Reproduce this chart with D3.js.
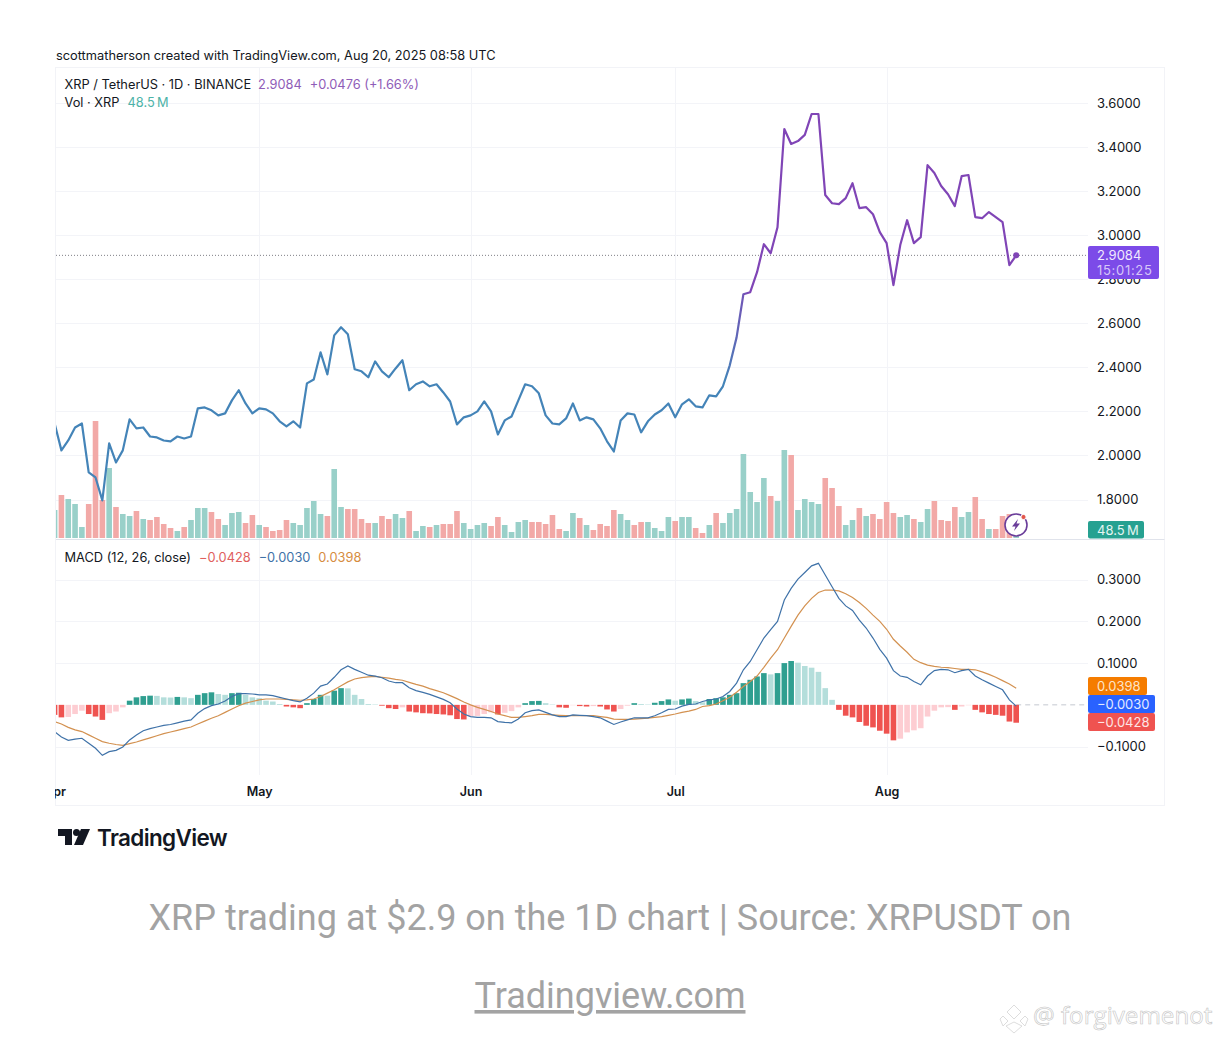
<!DOCTYPE html>
<html>
<head>
<meta charset="utf-8">
<title>XRP / TetherUS</title>
<script src="https://cdn.jsdelivr.net/npm/d3@7"></script>
<style>
  body { margin: 0; background: #fff; }
  svg { display: block; }
  text { font-family: Inter, "Noto Sans", sans-serif; fill: #131722; }
</style>
</head>
<body>
<div id="chart"></div>
<script>
// daily values, 1 Apr - 20 Aug 2025
const closes = [2.145,2.023,2.068,2.127,2.145,1.923,1.900,1.796,2.055,1.968,2.023,2.164,2.123,2.127,2.086,2.082,2.068,2.064,2.086,2.077,2.086,2.214,2.218,2.205,2.182,2.191,2.250,2.296,2.236,2.191,2.214,2.209,2.191,2.155,2.132,2.155,2.127,2.327,2.345,2.468,2.368,2.545,2.582,2.550,2.391,2.382,2.355,2.427,2.382,2.355,2.395,2.432,2.296,2.323,2.336,2.314,2.323,2.286,2.245,2.141,2.173,2.182,2.200,2.245,2.200,2.095,2.159,2.177,2.250,2.323,2.314,2.282,2.182,2.145,2.141,2.168,2.236,2.159,2.173,2.164,2.123,2.064,2.018,2.159,2.191,2.186,2.105,2.155,2.186,2.205,2.236,2.173,2.232,2.255,2.223,2.218,2.273,2.268,2.314,2.409,2.536,2.732,2.741,2.832,2.959,2.918,3.036,3.482,3.414,3.427,3.455,3.550,3.550,3.182,3.145,3.141,3.168,3.236,3.123,3.127,3.095,3.014,2.964,2.773,2.955,3.068,2.964,2.991,3.318,3.282,3.223,3.186,3.132,3.268,3.273,3.082,3.077,3.105,3.082,3.059,2.864,2.9084];
const volumes = [112,172,156,136,44,136,468,152,280,124,96,88,108,76,72,84,56,40,28,44,72,120,120,104,76,52,100,104,60,92,52,44,28,32,72,60,52,120,148,96,88,276,124,116,116,76,60,60,88,76,96,80,108,28,48,44,52,56,56,108,60,36,52,60,48,84,52,24,64,72,64,64,56,92,36,28,100,80,52,32,56,48,112,96,72,52,64,64,40,28,84,68,84,84,40,20,52,100,60,100,116,336,184,144,240,168,148,352,332,112,156,144,136,240,200,128,52,72,120,88,96,76,144,100,84,92,76,64,116,148,72,68,124,84,104,164,76,36,36,88,96,48.5];
const volumeUp = [1,0,1,1,1,0,0,0,1,0,1,1,0,1,0,0,0,0,1,0,1,1,1,0,0,1,1,1,0,0,1,0,0,0,0,1,1,1,1,1,0,1,1,0,0,0,0,1,0,0,1,1,0,1,1,0,1,0,0,0,1,1,1,1,0,0,1,1,1,1,0,0,0,0,0,1,1,0,1,0,0,0,0,1,1,0,0,1,1,1,1,0,1,1,0,0,1,0,1,1,1,1,1,1,1,0,1,1,0,1,1,1,1,0,0,0,1,1,0,1,0,0,0,0,1,1,0,1,1,0,0,0,0,1,1,0,0,1,0,0,0,1];
const macdLine = [-.064,-.077,-.085,-.082,-.080,-.092,-.104,-.121,-.112,-.109,-.101,-.084,-.072,-.062,-.057,-.053,-.049,-.047,-.043,-.039,-.036,-.020,-.009,-.002,.002,.009,.020,.027,.027,.026,.024,.024,.022,.018,.014,.010,.007,.016,.028,.045,.050,.066,.084,.093,.085,.078,.071,.069,.065,.057,.053,.053,.041,.034,.030,.025,.019,.013,.005,-.010,-.022,-.028,-.030,-.030,-.031,-.040,-.042,-.043,-.034,-.019,-.014,-.012,-.018,-.024,-.028,-.028,-.024,-.025,-.026,-.028,-.031,-.039,-.047,-.041,-.036,-.031,-.031,-.031,-.026,-.019,-.011,-.010,-.003,.001,.002,.008,.012,.014,.020,.032,.052,.084,.104,.132,.160,.180,.200,.251,.279,.301,.317,.333,.339,.311,.283,.255,.237,.226,.203,.184,.160,.133,.112,.082,.069,.066,.056,.048,.069,.082,.085,.084,.077,.082,.085,.069,.060,.052,.044,.036,.012,-.0030];
const signalLine = [-.040,-.046,-.054,-.060,-.064,-.072,-.080,-.088,-.092,-.095,-.097,-.093,-.089,-.084,-.079,-.074,-.069,-.065,-.061,-.057,-.053,-.046,-.039,-.032,-.026,-.018,-.010,-.002,.004,.008,.012,.014,.014,.014,.013,.012,.011,.012,.014,.020,.028,.036,.046,.055,.062,.065,.067,.068,.066,.064,.061,.059,.054,.049,.045,.039,.034,.029,.022,.015,.007,0,-.006,-.011,-.016,-.022,-.026,-.030,-.030,-.028,-.026,-.023,-.023,-.024,-.025,-.026,-.026,-.026,-.026,-.026,-.028,-.030,-.034,-.035,-.035,-.034,-.033,-.032,-.030,-.028,-.025,-.022,-.018,-.015,-.011,-.004,-.002,.002,.010,.018,.030,.044,.056,.069,.090,.112,.132,.160,.188,.215,.237,.255,.269,.275,.275,.273,.266,.257,.245,.231,.215,.200,.181,.157,.141,.126,.109,.101,.095,.092,.090,.089,.087,.085,.085,.084,.079,.073,.066,.058,.050,.0398];
const histogram = [-.024,-.030,-.029,-.022,-.014,-.022,-.028,-.036,-.020,-.016,-.006,.010,.018,.021,.022,.0215,.018,.0175,.019,.018,.016,.024,.028,.030,.026,.024,.028,.029,.024,.018,.016,.010,.008,.002,-.004,-.006,-.008,.004,.014,.024,.022,.034,.040,.0395,.024,.014,.002,.001,-.002,-.008,-.010,-.006,-.016,-.018,-.020,-.0205,-.022,-.023,-.025,-.034,-.035,-.027,-.0265,-.022,-.018,-.023,-.019,-.015,-.006,.004,.009,.0095,.004,.001,-.006,-.007,-.001,-.003,-.004,-.003,-.004,-.011,-.016,-.010,-.002,.004,.002,.001,.005,.009,.013,.010,.013,.015,.009,.006,.014,.016,.018,.024,.028,.052,.060,.068,.076,.073,.076,.100,.105,.101,.093,.089,.079,.040,.012,-.012,-.026,-.030,-.041,-.050,-.054,-.062,-.069,-.085,-.081,-.066,-.061,-.056,-.028,-.014,-.006,-.0055,-.012,-.004,-.001,-.012,-.018,-.022,-.024,-.026,-.040,-.0428];

const priceTicks = [3.6,3.4,3.2,3.0,2.8,2.6,2.4,2.2,2.0,1.8];
const macdTicks = [0.3,0.2,0.1,-0.1];
const monthTicks = [new Date(2025,3,1),new Date(2025,4,1),new Date(2025,5,1),new Date(2025,6,1),new Date(2025,7,1)];

const width = 1220, height = 1043;
const frame = {left: 55.5, right: 1164.5, top: 67.5, bottom: 805.5};
const axisX = 1088;
const barW = 5.6;

const dates = closes.map((_, i) => d3.timeDay.offset(new Date(2025,3,1), i));
const x = d3.scaleTime().domain([dates[0], dates[141]]).range([54.6, 1016.2]);
const yPrice = d3.scaleLinear().domain([1.8,3.6]).range([499.5,103]);
const yVol = d3.scaleLinear().domain([0,400]).range([538,438]);
const yMacd = d3.scaleLinear().domain([-0.1,0.3]).range([746.6,579.6]);

const svg = d3.select('#chart').append('svg').attr('width', width).attr('height', height);
const defs = svg.append('defs');

defs.append('clipPath').attr('id', 'plot').append('rect')
  .attr('x', 56).attr('y', 68).attr('width', 1032).attr('height', 737);
defs.append('clipPath').attr('id', 'timeClip').append('rect')
  .attr('x', 55).attr('y', -10).attr('width', 1100).attr('height', 35);

const grad = defs.append('linearGradient').attr('id', 'priceGrad')
  .attr('gradientUnits', 'userSpaceOnUse')
  .attr('x1', 725).attr('x2', 750).attr('y1', 0).attr('y2', 0);
grad.append('stop').attr('offset', 0).attr('stop-color', '#4484b8');
grad.append('stop').attr('offset', 1).attr('stop-color', '#8045b6');

svg.append('text').attr('x', 56).attr('y', 60).attr('font-size', 12.8).text('scottmatherson created with TradingView.com, Aug 20, 2025 08:58 UTC');

// frame + grid
svg.append('rect').attr('x', frame.left).attr('y', frame.top)
  .attr('width', frame.right - frame.left).attr('height', frame.bottom - frame.top)
  .attr('fill', 'none').attr('stroke', '#f2f3f7');

const grid = svg.append('g').attr('stroke', '#f3f4f8').attr('fill', 'none');
grid.selectAll('.h1').data(priceTicks).enter().append('line')
  .attr('x1', 56).attr('x2', axisX)
  .attr('y1', d => Math.round(yPrice(d)) + 0.5).attr('y2', d => Math.round(yPrice(d)) + 0.5);
grid.selectAll('.h2').data(macdTicks).enter().append('line')
  .attr('x1', 56).attr('x2', axisX)
  .attr('y1', d => Math.round(yMacd(d)) + 0.5).attr('y2', d => Math.round(yMacd(d)) + 0.5);
grid.selectAll('.v').data(monthTicks.slice(1)).enter().append('line')
  .attr('y1', 68).attr('y2', 775)
  .attr('x1', d => Math.round(x(d)) + 0.5).attr('x2', d => Math.round(x(d)) + 0.5);

svg.append('line').attr('x1', 56).attr('x2', frame.right).attr('y1', 539.5).attr('y2', 539.5).attr('stroke', '#e0e3eb');

const plot = svg.append('g').attr('clip-path', 'url(#plot)');

// volume
plot.append('g').selectAll('rect').data(volumes).enter().append('rect')
  .attr('x', (d, i) => x(dates[i]) - barW / 2)
  .attr('width', barW)
  .attr('y', d => yVol(d))
  .attr('height', d => yVol(0) - yVol(d))
  .attr('fill', (d, i) => volumeUp[i] ? '#99d0c9' : '#f2a9a7');

// last price line
plot.append('line').attr('x1', 56).attr('x2', axisX)
  .attr('y1', yPrice(2.9084)).attr('y2', yPrice(2.9084))
  .attr('stroke', '#7f7f86').attr('stroke-dasharray', '1 2');

const priceLine = d3.line().x((d, i) => x(dates[i])).y(d => yPrice(d));
plot.append('path').datum(closes).attr('d', priceLine)
  .attr('fill', 'none').attr('stroke', 'url(#priceGrad)').attr('stroke-width', 2.2).attr('stroke-linejoin', 'round');
plot.append('circle').attr('cx', x(dates[141])).attr('cy', yPrice(2.9084)).attr('r', 3).attr('fill', '#8045b6');

// macd zero line, only past the last bar
plot.append('line').attr('x1', x(dates[141])).attr('x2', axisX)
  .attr('y1', yMacd(0)).attr('y2', yMacd(0)).attr('stroke', '#c4c8d0').attr('stroke-dasharray', '5 4');

function histColor(d, i) {
  const prev = i > 0 ? histogram[i - 1] : d + 1;
  if (d >= 0) return d > prev ? '#2f9f90' : '#b4dedb';
  return d < prev ? '#ef5350' : '#fdcdd2';
}
plot.append('g').selectAll('rect').data(histogram).enter().append('rect')
  .attr('x', (d, i) => x(dates[i]) - barW / 2)
  .attr('width', barW)
  .attr('y', d => yMacd(Math.max(d, 0)))
  .attr('height', d => Math.abs(yMacd(d) - yMacd(0)))
  .attr('fill', histColor);

const macdPath = d3.line().x((d, i) => x(dates[i])).y(d => yMacd(d));
plot.append('path').datum(signalLine).attr('d', macdPath).attr('fill', 'none').attr('stroke', '#d39150').attr('stroke-width', 1.2);
plot.append('path').datum(macdLine).attr('d', macdPath).attr('fill', 'none').attr('stroke', '#3f72a8').attr('stroke-width', 1.2);

// axes
const priceAxis = svg.append('g').attr('transform', `translate(${axisX},0)`)
  .call(d3.axisRight(yPrice).tickValues(priceTicks).tickFormat(d3.format('.4f')).tickSize(0).tickPadding(9));
const macdAxis = svg.append('g').attr('transform', `translate(${axisX},0)`)
  .call(d3.axisRight(yMacd).tickValues(macdTicks).tickFormat(d3.format('.4f')).tickSize(0).tickPadding(9));
const timeAxis = svg.append('g').attr('transform', 'translate(0,781)').attr('clip-path', 'url(#timeClip)')
  .call(d3.axisBottom(x).tickValues(monthTicks).tickFormat(d3.timeFormat('%b')).tickSize(0).tickPadding(6));
[priceAxis, macdAxis, timeAxis].forEach(a => {
  a.select('.domain').remove();
  a.selectAll('text').attr('font-size', 13).style('font-family', 'Inter, sans-serif').attr('fill', '#131722');
});
timeAxis.selectAll('text').attr('font-weight', 600).attr('font-size', 12.5);

// legends
function legend(y, parts) {
  const t = svg.append('text').attr('x', 64.5).attr('y', y).attr('font-size', 12.8);
  parts.forEach(p => t.append('tspan').attr('dx', p[2] || 0).style('fill', p[1]).text(p[0]));
}
legend(88.5, [['XRP / TetherUS · 1D · BINANCE', '#131722'], ['2.9084', '#8f5db8', 7], ['+0.0476 (+1.66%)', '#8f5db8', 8]]);
legend(106.5, [['Vol · XRP', '#131722'], ['48.5\u2009M', '#4db3a8', 8]]);
legend(561.5, [['MACD (12, 26, close)', '#131722'], ['−0.0428', '#e0605e', 8], ['−0.0030', '#3f72a8', 8], ['0.0398', '#d68c3f', 8]]);

// axis badges
function badge(y, h, w, fill, lines) {
  svg.append('rect').attr('x', axisX).attr('y', y).attr('width', w).attr('height', h).attr('rx', 2).attr('fill', fill);
  lines.forEach((l, i) => {
    svg.append('text').attr('x', axisX + 9).attr('y', y + 13.5 + i * 15).attr('font-size', 13)
      .attr('letter-spacing', l[2] || 0).style('fill', l[1]).text(l[0]);
  });
}
badge(246, 33, 71, '#7c4be8', [['2.9084', '#f1eafd'], ['15:01:25', '#d7c6f8', 0.7]]);
badge(521, 17.5, 56, '#26a191', [['48.5\u2009M', '#e4f5f2']]);
badge(677, 18, 59, '#f57c00', [['0.0398', '#fde5c8']]);
badge(713, 18, 67, '#ef5350', [['−0.0428', '#fde6e5']]);
badge(695, 18, 67, '#2962ff', [['−0.0030', '#e3eaff']]);

// lightning badge
const bolt = svg.append('g').attr('transform', 'translate(1016,525)');
bolt.append('circle').attr('r', 11).attr('fill', '#fff').attr('stroke', '#6a3d9a').attr('stroke-width', 1.6);
bolt.append('path').attr('d', 'M2,-6 L-4,1.5 L-0.5,1.5 L-2,6 L4,-1.5 L0.5,-1.5 Z').attr('fill', '#6a3d9a');
bolt.append('circle').attr('cx', 7.5).attr('cy', -8).attr('r', 2.6).attr('fill', '#e2574c').attr('stroke', '#fff');

// TradingView logo
const logo = svg.append('g').attr('fill', '#131722');
logo.append('path').attr('d', 'M58,829 H72 V845 H65 V836 H58 Z');
logo.append('circle').attr('cx', 76.5).attr('cy', 832.5).attr('r', 3.5);
logo.append('path').attr('d', 'M81,829 H90 L83,845 H74 Z');
svg.append('text').attr('x', 97).attr('y', 845.5).attr('font-size', 22.5).attr('font-weight', 600)
  .attr('letter-spacing', -0.65).text('TradingView');

// caption
svg.append('text').attr('x', 610).attr('y', 930).attr('text-anchor', 'middle')
  .style('font-family', 'Roboto, sans-serif').attr('font-size', 36).style('fill', '#a3a3a3')
  .text('XRP trading at $2.9 on the 1D chart | Source: XRPUSDT on');
svg.append('text').attr('x', 610).attr('y', 1008).attr('text-anchor', 'middle')
  .style('font-family', 'Roboto, sans-serif').attr('font-size', 36).style('fill', '#a3a3a3')
  .attr('text-decoration', 'underline').text('Tradingview.com');

// watermark
const mark = svg.append('g').attr('fill', '#fff').attr('stroke', '#d4d4d4').attr('stroke-width', 0.8);
mark.append('path').attr('d', 'M1014,1005 L1021,1012 L1014,1019 L1007,1012 Z');
mark.append('path').attr('d', 'M1003,1016 L1008,1021 L1003,1026 L1000,1019 Z');
mark.append('path').attr('d', 'M1025,1016 L1028,1019 L1025,1026 L1020,1021 Z');
mark.append('path').attr('d', 'M1014,1022 L1022,1026 L1014,1033 L1006,1026 Z');
svg.append('text').attr('x', 1033).attr('y', 1024).attr('font-size', 24.2)
  .style('font-family', '"Open Sans", sans-serif').style('fill', '#fff')
  .attr('stroke', '#c4c4c4').attr('stroke-width', 0.6).text('@ forgivemenot');
</script>
</body>
</html>
